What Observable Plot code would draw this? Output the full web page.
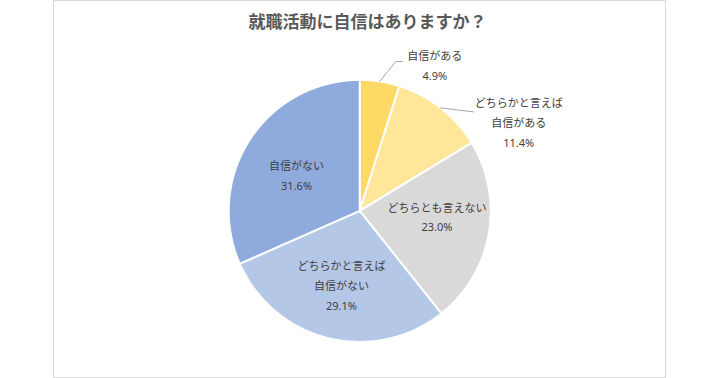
<!DOCTYPE html>
<html><head><meta charset="utf-8">
<script src="https://cdn.jsdelivr.net/npm/d3@7"></script>
<script src="https://cdn.jsdelivr.net/npm/@observablehq/plot@0.6"></script>
<style>
body{margin:0;background:#fff;}
#wrap{position:relative;width:720px;height:378px;overflow:hidden;font-family:"Noto Sans CJK JP","Noto Sans",sans-serif;}
#frame{position:absolute;left:53px;top:0;width:613px;height:378px;box-sizing:border-box;border:1px solid #D9D9D9;}
#title{position:absolute;left:61px;width:613px;top:9px;text-align:center;font-size:17px;line-height:24px;font-weight:bold;color:#595959;}
#chart{position:absolute;left:0;top:0;}
</style></head>
<body><div id="wrap"><div id="frame"></div><div id="title">就職活動に自信はありますか？</div><div id="chart"></div></div>
<script>
// ---- data ----
const categories = ["自信がある", "どちらかと言えば自信がある", "どちらとも言えない", "どちらかと言えば自信がない", "自信がない"];
const labelTexts = ["自信がある", "どちらかと言えば\n自信がある", "どちらとも言えない", "どちらかと言えば\n自信がない", "自信がない"];
const values = [4.9, 11.4, 23.0, 29.1, 31.6];
const colors = ["#FFD966", "#FFE699", "#D9D9D9", "#B4C7E7", "#8FAADC"];

// ---- layout / style config ----
const R = 131; // pixel radius
const labelPlace = [
  {r: 1.0, dx: 55, dy: -18},
  {r: 1.0, dx: 78, dy: 13},
  {r: 0.58, dx: 2.5, dy: -9},
  {r: 0.58, dx: 0, dy: -1},
  {r: 0.58, dx: 0.5, dy: 4}
];
const leaders = [
  [[0, 0], [16, -20], [23, -20]],
  [[0, 0], [33, 4]],
  null, null, null
];

const arcs = d3.pie().sort(null).value(d => d)(values);

const slices = [];
arcs.forEach((a, i) => {
  const n = Math.max(2, Math.ceil((a.endAngle - a.startAngle) / 0.005));
  slices.push({cat: categories[i], x: 0, y: 0});
  for (let k = 0; k <= n; k++) {
    const t = a.startAngle + (a.endAngle - a.startAngle) * k / n;
    slices.push({cat: categories[i], x: Math.sin(t), y: Math.cos(t)});
  }
  slices.push({cat: categories[i], x: 0, y: 0});
});

const labels = arcs.map((a, i) => {
  const m = (a.startAngle + a.endAngle) / 2;
  const p = labelPlace[i];
  return {
    text: labelTexts[i] + "\n" + values[i].toFixed(1) + "%",
    x: p.r * Math.sin(m) + p.dx / R,
    y: p.r * Math.cos(m) - p.dy / R
  };
});

const leaderPts = [];
arcs.forEach((a, i) => {
  if (!leaders[i]) return;
  const m = (a.startAngle + a.endAngle) / 2;
  const x0 = Math.sin(m), y0 = Math.cos(m);
  leaders[i].forEach(([dx, dy]) => leaderPts.push({id: i, x: x0 + dx / R, y: y0 - dy / R}));
});

const chart = Plot.plot({
  width: 720,
  height: 378,
  margin: 0,
  style: {background: "transparent", fontFamily: "'Noto Sans', 'Noto Sans CJK JP', sans-serif"},
  x: {domain: [-1, 1], range: [228.2, 490.2], axis: null},
  y: {domain: [-1, 1], range: [341.4, 79.4], axis: null},
  color: {domain: categories, range: colors},
  marks: [
    Plot.line(slices, {x: "x", y: "y", z: "cat", fill: "cat", stroke: "white", strokeWidth: 2, strokeLinejoin: "miter", curve: "linear"}),
    Plot.line(leaderPts, {x: "x", y: "y", z: "id", stroke: "#A6A6A6", strokeWidth: 1}),
    Plot.text(labels, {x: "x", y: "y", text: "text", fontSize: 11, lineHeight: 1.8, fill: "#404040", lineAnchor: "middle"})
  ]
});
document.getElementById("chart").appendChild(chart);
</script>
</body></html>
